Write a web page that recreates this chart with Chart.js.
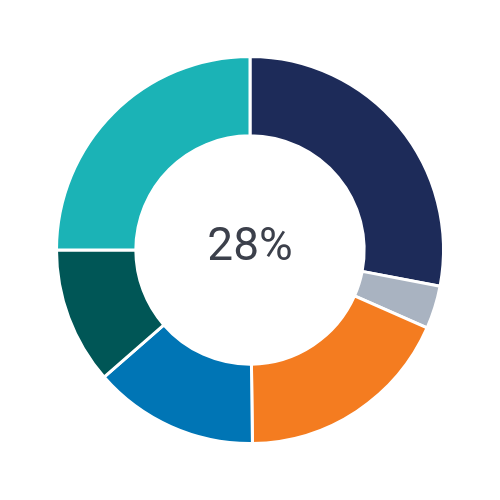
<!DOCTYPE html>
<html lang="en">
<head>
    <meta charset="UTF-8">
    <title>Doughnut</title>
    <script src="https://cdn.jsdelivr.net/npm/chart.js@4/dist/chart.umd.min.js"></script>
    <style>
        html, body { margin: 0; padding: 0; background: #fff; }
        #wrap { width: 500px; height: 500px; }
    </style>
</head>
<body>
    <div id="wrap"><canvas id="donut"></canvas></div>

    <script>
        // slice data, clockwise from 12 o'clock
        const categories = ['Navy', 'Grey', 'Orange', 'Blue', 'Dark teal', 'Teal'];
        const shares = [28, 3.6, 18.2, 13.8, 11.4, 25];
        const sliceColors = ['#1d2b59', '#a9b3c1', '#f47c20', '#0075b5', '#005656', '#1bb3b6'];
        const centerLabel = '28%';

        // draws the big number in the hole
        const centerText = {
            id: 'centerText',
            afterDraw(chart) {
                const { ctx, chartArea } = chart;
                const cx = (chartArea.left + chartArea.right) / 2;
                const cy = (chartArea.top + chartArea.bottom) / 2;
                ctx.save();
                ctx.font = '46px Roboto, "Liberation Sans", sans-serif';
                ctx.fillStyle = '#3c404b';
                ctx.textAlign = 'center';
                ctx.textBaseline = 'middle';
                ctx.fillText(centerLabel, cx, cy - 2);
                ctx.restore();
            }
        };

        new Chart(document.getElementById('donut'), {
            type: 'doughnut',
            data: {
                labels: categories,
                datasets: [{
                    data: shares,
                    backgroundColor: sliceColors,
                    borderColor: '#ffffff',
                    borderWidth: 3
                }]
            },
            options: {
                responsive: true,
                maintainAspectRatio: false,
                animation: false,
                cutout: '59%',
                layout: { padding: 55 },
                plugins: {
                    legend: { display: false },
                    tooltip: { enabled: false }
                }
            },
            plugins: [centerText]
        });
    </script>
</body>
</html>
